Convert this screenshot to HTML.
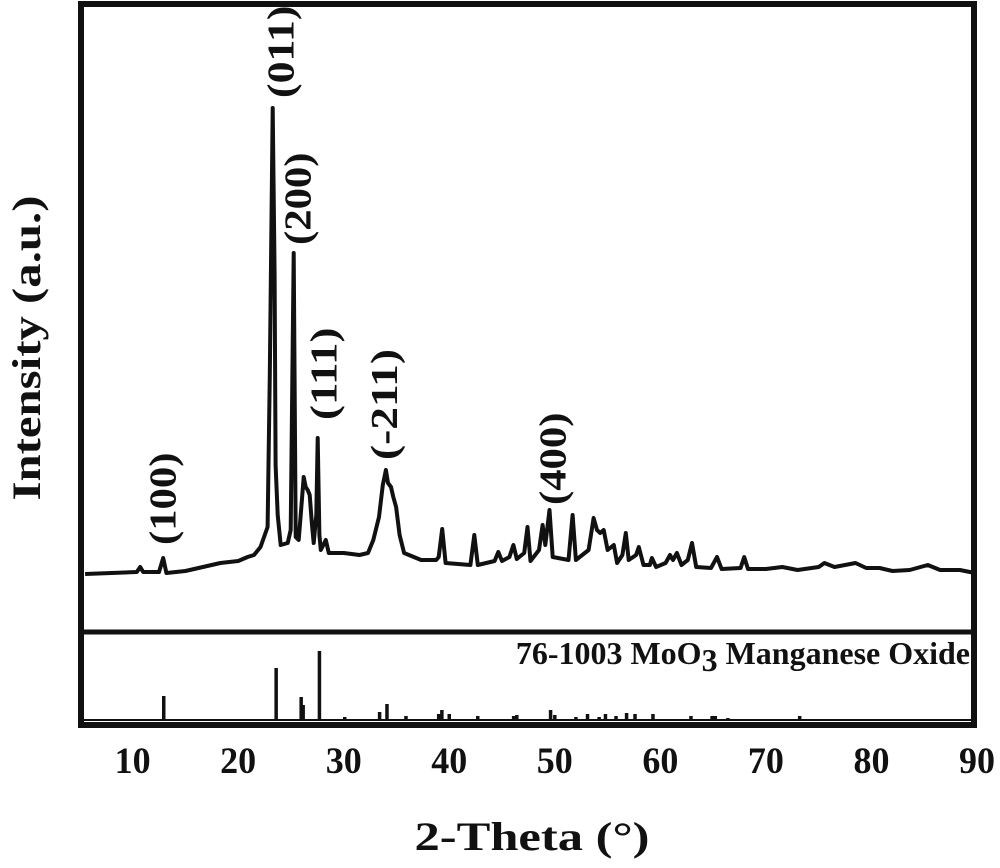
<!DOCTYPE html>
<html><head><meta charset="utf-8"><style>
html,body{margin:0;padding:0;background:#fff;}
svg{display:block;font-family:"Liberation Serif",serif;font-weight:bold;}
</style></head><body>
<svg id="chart" width="1000" height="868" viewBox="0 0 1000 868">
<g id="plot"></g>
</svg>
<script>
// Measured pattern: 2-theta (deg) and intensity (a.u.)
const thetaPts = [5.5,8.0,10.4,10.72,11.0,12.5,12.9,13.2,15,18.32,20.0,20.89,21.5,22.12,22.79,23.0,23.27,23.45,23.55,23.75,24.03,24.69,24.98,25.26,25.45,25.74,26.0,26.21,26.4,26.59,26.78,27.0,27.16,27.4,27.54,27.7,27.83,28.3,28.59,30.01,31.5,32.3,32.8,33.34,33.7,34.0,34.2,34.48,34.7,34.96,35.3,35.72,37.33,38.76,39.0,39.33,39.65,42.0,42.37,42.7,44.3,44.65,45.0,45.7,46.08,46.4,47.1,47.41,47.7,48.5,48.84,49.1,49.5,49.8,51.3,51.69,52.0,53.2,53.68,54.0,54.3,54.63,55.0,55.59,55.9,56.4,56.73,57.0,57.7,57.96,58.4,59.0,59.2,59.6,60.5,60.91,61.2,61.57,62.0,62.6,63.0,63.4,64.8,65.37,65.8,67.6,67.94,68.3,70,71.55,73,75.0,75.54,76.5,78.49,79.5,80.77,82,83.62,85.34,86.5,88.38,89.8];
const intensity = [1,2,3,8,3,3,17,2,4,12,14,18,20,28,48,200,467,300,110,60,30,32,45,322,38,35,70,98,88,85,80,50,32,60,137,40,25,35,22,22,20,22,35,58,90,105,92,88,78,68,40,22,15,15,18,46,12,10,40,10,14,23,14,18,30,16,22,48,14,25,50,30,65,18,15,60,15,25,57,45,42,45,25,30,12,20,42,15,20,28,10,10,17,8,12,20,15,22,10,15,32,8,7,18,6,7,18,6,6,8,5,8,12,8,12,7,7,4,5,10,5,5,2];
// Reference card 76-1003 MoO3: stick positions and relative intensities
const refTheta = [12.95,23.6,25.97,26.16,27.7,30.1,33.4,34.1,35.9,39.0,39.3,40.0,42.7,46.1,46.4,49.6,50.0,52.0,53.1,54.2,54.8,55.8,56.8,57.6,59.3,62.9,64.9,65.2,66.4,73.2];
const refInt = [24,52,23,15,69,3,8,16,4,6,10,6,4,4,5,10,5,3,6,3,6,4,7,6,6,4,4,4,2,4];
const xTicks = [10,20,30,40,50,60,70,80,90];
const peakLabels = ["(100)","(011)","(200)","(111)","(-211)","(400)"];
const peakLabelTheta = [12.95,24.1,25.7,28.2,33.9,49.9];
const peakLabelInt = [30,477,330,155,115,70];

const NS="http://www.w3.org/2000/svg";
const g=document.getElementById('plot');
const X0=83,X1=977,T0=5.3,T1=90;
function xs(t){return X0+(t-T0)*(X1-X0)/(T1-T0);}
function ys(i){return 575-i;}
function yr(i){return 720-i;}
function mk(tag,attrs,parent){const e=document.createElementNS(NS,tag);for(const k in attrs)e.setAttribute(k,attrs[k]);(parent||g).appendChild(e);return e;}

// pattern line
let d='';
thetaPts.forEach((t,i)=>{d+=(i?'L':'M')+xs(t).toFixed(1)+' '+ys(intensity[i]).toFixed(1);});
const line=mk('path',{d:d,fill:'none',stroke:'#111','stroke-width':4,'stroke-linejoin':'round'});



// reference sticks
mk('line',{x1:X0,x2:X1,y1:720,y2:720,stroke:'#111','stroke-width':2});
refTheta.forEach((t,i)=>{
  const s=mk('line',{x1:xs(t),x2:xs(t),y1:720,y2:yr(refInt[i]),stroke:'#111','stroke-width':3.5});
  
  
});

// peak labels
peakLabels.forEach((lab,i)=>{
  const x=xs(peakLabelTheta[i]), y=ys(peakLabelInt[i]);
  const len = lab.length*18.5;
  const t=mk('text',{x:x,y:y,transform:'rotate(-90 '+x+' '+y+')','font-size':38,'text-anchor':'start','dominant-baseline':'central',fill:'#111',textLength:len,lengthAdjust:'spacingAndGlyphs'});
  t.textContent=lab;
  
  
});

// frame
const fr=mk('rect',{x:81,y:4,width:893,height:721,fill:'none',stroke:'#111','stroke-width':6});


const dv=mk('line',{x1:81,x2:974,y1:632,y2:632,stroke:'#111','stroke-width':5});



// ticks
xTicks.forEach(v=>{
  const t=mk('text',{x:xs(v),y:773,'font-size':37,'text-anchor':'middle',fill:'#111',textLength:36,lengthAdjust:'spacingAndGlyphs'});
  t.textContent=v;
  
  
});

// titles
const xt=mk('text',{x:532,y:850,'font-size':40,'text-anchor':'middle',fill:'#111',textLength:235,lengthAdjust:'spacingAndGlyphs'});
xt.textContent='2-Theta (°)';


const yt=mk('text',{x:40,y:348,'font-size':40,'text-anchor':'middle',fill:'#111',transform:'rotate(-90 40 348)',textLength:305,lengthAdjust:'spacingAndGlyphs'});
yt.textContent='Intensity (a.u.)';



// legend
const lg=mk('text',{x:970,y:664,'font-size':32,'text-anchor':'end',fill:'#111'});
lg.innerHTML='76-1003 MoO<tspan dy="7">3</tspan><tspan dy="-7"> Manganese Oxide</tspan>';


</script>
</body></html>
